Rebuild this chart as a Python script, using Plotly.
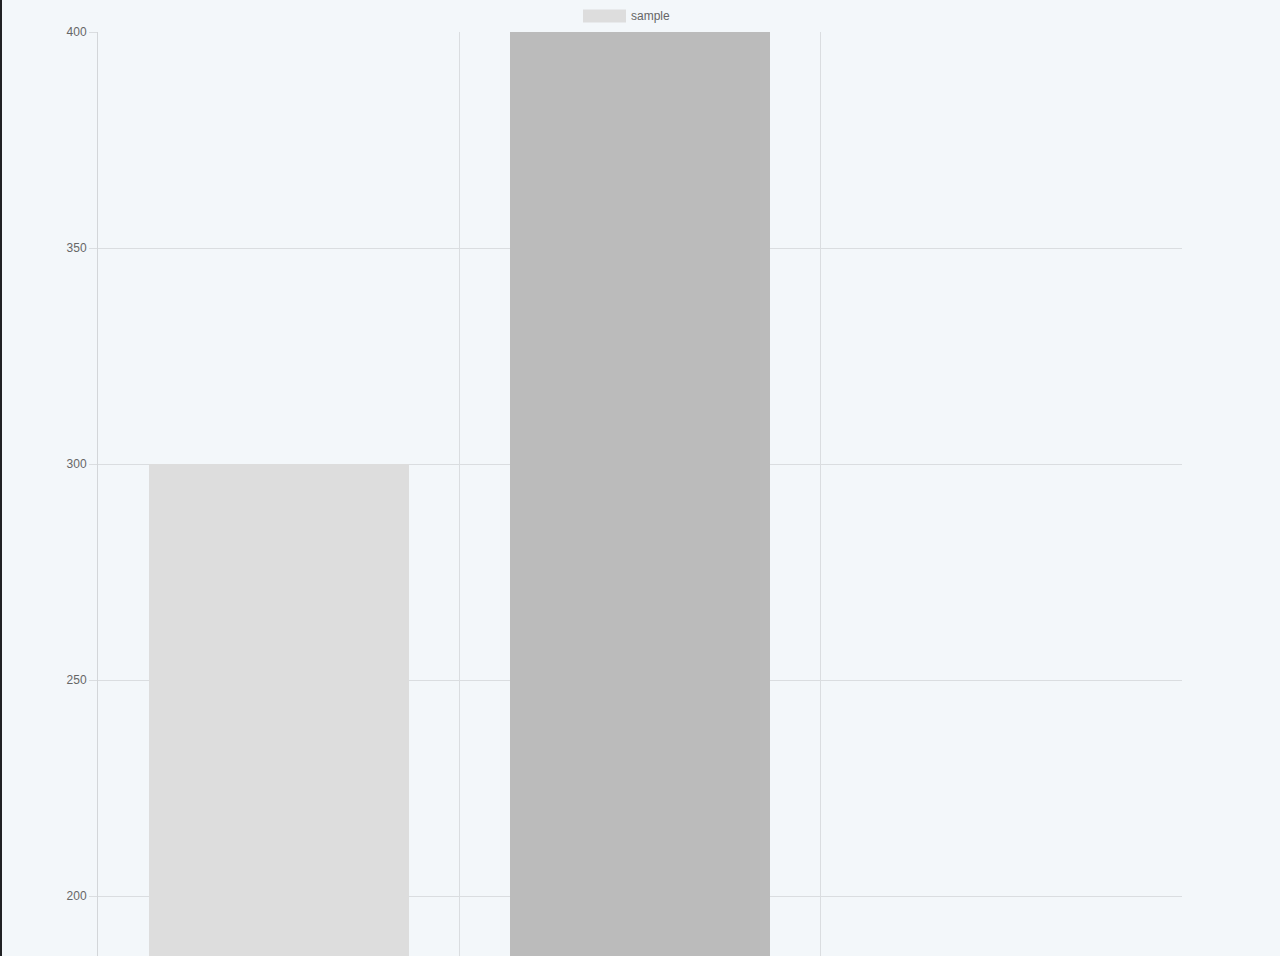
import plotly.graph_objects as go

categories = ["A", "B", "C"]
values = [300, 400, 150]
bar_colors = ["#dddddd", "#bbbbbb", "#999999"]
series_name = "sample"
y_ticks = [150, 200, 250, 300, 350, 400]

BG = "#f3f7fa"
GRID = "#dadde0"
FONT = "Liberation Sans, Arial, Helvetica, sans-serif"

W, H = 1263, 1140
ML, MR, MT, MB = 96, 83, 32, 28

x_idx = list(range(len(categories)))

fig = go.Figure()
fig.add_trace(go.Bar(
    x=x_idx, y=values, name=series_name,
    marker=dict(color=bar_colors, line=dict(width=0)),
    width=0.72, showlegend=False, hoverinfo="y",
))

fig.update_layout(
    width=W, height=H,
    margin=dict(l=ML, r=MR, t=MT, b=MB, pad=0),
    paper_bgcolor=BG, plot_bgcolor=BG,
    font=dict(family=FONT, size=12, color="#666666"),
    bargap=0,
    showlegend=False,
)
fig.update_xaxes(
    range=[-0.5, len(categories) - 0.5],
    tickvals=x_idx, ticktext=categories,
    showgrid=False, zeroline=False,
    showline=False, ticks="",
    minor=dict(tickvals=[i + 0.5 for i in x_idx[:-1]], showgrid=True,
               gridcolor=GRID, gridwidth=1, ticks="outside", ticklen=8,
               tickcolor=GRID),
    tickfont=dict(size=12, color="#666666"),
)
fig.update_yaxes(
    range=[y_ticks[0], y_ticks[-1]],
    tickvals=y_ticks,
    showgrid=True, gridcolor=GRID, gridwidth=1,
    zeroline=False,
    showline=True, linecolor="#d3d6d9", linewidth=1,
    ticks="outside", ticklen=8, tickcolor=GRID,
    tickfont=dict(size=12, color="#666666"),
)

# Legend (Chart.js style: wide colour box + label), drawn above the plot area
plot_w = W - ML - MR
plot_h = H - MT - MB
def px_x(p):
    return (p - 2 - ML) / plot_w
def px_y(p):
    return 1 - (p - MT) / plot_h

fig.add_shape(type="rect", xref="paper", yref="paper",
              x0=px_x(583), x1=px_x(626), y0=px_y(22.5), y1=px_y(9.5),
              fillcolor=bar_colors[0], line=dict(width=0), layer="above")
fig.add_annotation(text=series_name, xref="paper", yref="paper",
                   x=px_x(629), y=px_y(16), xanchor="left", yanchor="middle",
                   showarrow=False, font=dict(size=12, color="#666666", family=FONT))

fig.write_html("out.html", post_script=(
    "document.body.style.margin='0';"
    "document.body.style.background='%s';"
    "document.body.style.borderLeft='2px solid #202124';" % BG
))
